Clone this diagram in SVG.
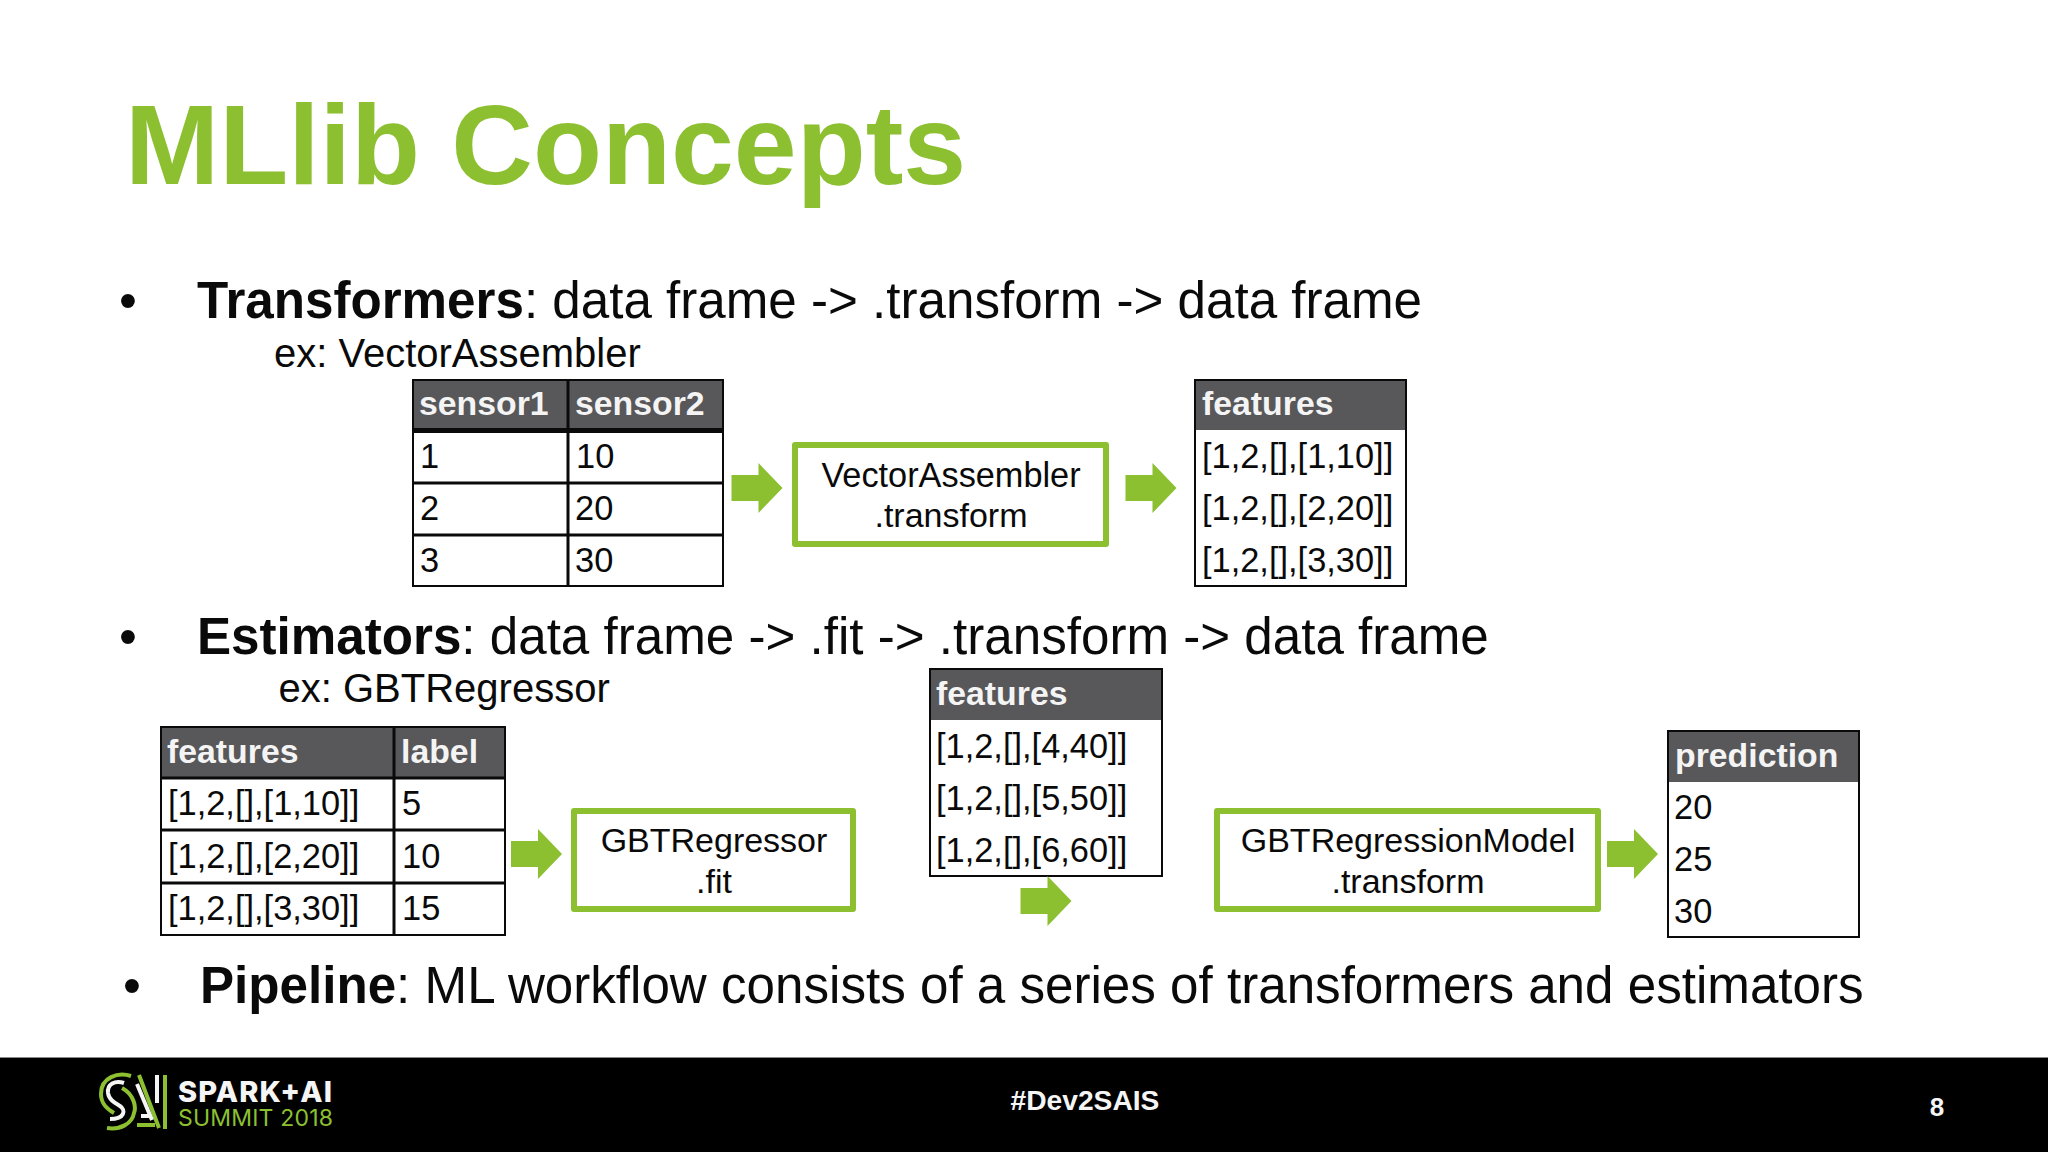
<svg xmlns="http://www.w3.org/2000/svg" width="2048" height="1152" viewBox="0 0 2048 1152">
<style>
text{font-family:"Liberation Sans",Arial,sans-serif;fill:#0a0a0a}
.title{font-size:113px;font-weight:700;fill:#8dc031}
.main{font-size:51.15px}
.main tspan{font-weight:700}
.sub{font-size:40px}
.th{font-size:33.8px;font-weight:700;fill:#f4f4f4}
.td{font-size:34.4px}
.lbl{font-size:34px;text-anchor:middle}
.head{fill:#58585a}
.frame{fill:#fff}
.outline{fill:none;stroke:#0a0a0a;stroke-width:2}
.grid{stroke:#0a0a0a;stroke-width:3;fill:none}
.box{fill:#fff;stroke:#8dc031;stroke-width:6;stroke-linejoin:round}
.arrow{fill:#8dc031}
.foot{font-weight:700;fill:#f5f5f5}
.lg{fill:none;stroke:#8dc031;stroke-width:4}
.lw{fill:none;stroke:#f5f5f5;stroke-width:4}
</style>
<defs>
<polygon id="arr" points="-25.5,-13 1.5,-13 1.5,-25 25.5,0 1.5,25 1.5,13 -25.5,13"/>
</defs>
<rect width="2048" height="1152" fill="#fff"/>
<text class="title" x="125" y="184">MLlib Concepts</text>

<g id="bullet-transformers">
<text class="main" x="119" y="318">•</text>
<text class="main" x="197" y="318"><tspan>Transformers</tspan>: data frame -&gt; .transform -&gt; data frame</text>
<text class="sub" x="274" y="367">ex: VectorAssembler</text>
</g>

<g id="table-sensors">
<rect class="frame" x="413" y="380" width="310" height="206"/>
<rect class="head" x="413" y="380" width="310" height="50"/>
<path class="grid" d="M413 483H723M413 535H723M568 380V586"/>
<path d="M413 430.500H723" stroke="#0a0a0a" stroke-width="5"/>
<rect class="outline" x="413" y="380" width="310" height="206"/>
<text class="th" x="419" y="415">sensor1</text><text class="th" x="575" y="415">sensor2</text>
<text class="td" x="420" y="468">1</text><text class="td" x="576" y="468">10</text>
<text class="td" x="420" y="520">2</text><text class="td" x="575" y="520">20</text>
<text class="td" x="420" y="572">3</text><text class="td" x="575" y="572">30</text>
</g>

<g id="node-vectorassembler">
<rect class="box" x="795" y="445" width="311" height="99"/>
<text class="lbl" x="951" y="487" style="font-size:34.3px">VectorAssembler</text>
<text class="lbl" x="951" y="527">.transform</text>
</g>

<g id="table-features-out">
<rect class="frame" x="1195" y="380" width="211" height="206"/>
<rect class="head" x="1195" y="380" width="211" height="50"/>
<rect class="outline" x="1195" y="380" width="211" height="206"/>
<text class="th" x="1202" y="415">features</text>
<text class="td" x="1202" y="468">[1,2,[],[1,10]]</text>
<text class="td" x="1202" y="520">[1,2,[],[2,20]]</text>
<text class="td" x="1202" y="572">[1,2,[],[3,30]]</text>
</g>

<g id="bullet-estimators">
<text class="main" x="119" y="654">•</text>
<text class="main" x="197" y="654"><tspan>Estimators</tspan>: data frame -&gt; .fit -&gt; .transform -&gt; data frame</text>
<text class="sub" x="278.500" y="702">ex: GBTRegressor</text>
</g>

<g id="table-train">
<rect class="frame" x="161" y="727" width="344" height="208"/>
<rect class="head" x="161" y="727" width="344" height="51"/>
<path class="grid" d="M161 778H505M161 830H505M161 883H505M394 727V935"/>
<rect class="outline" x="161" y="727" width="344" height="208"/>
<text class="th" x="167" y="763">features</text><text class="th" x="401" y="763">label</text>
<text class="td" x="168" y="815">[1,2,[],[1,10]]</text><text class="td" x="402" y="815">5</text>
<text class="td" x="168" y="868">[1,2,[],[2,20]]</text><text class="td" x="402" y="868">10</text>
<text class="td" x="168" y="920">[1,2,[],[3,30]]</text><text class="td" x="402" y="920">15</text>
</g>

<g id="node-gbtregressor">
<rect class="box" x="574" y="811" width="279" height="98"/>
<text class="lbl" x="714" y="852">GBTRegressor</text>
<text class="lbl" x="714" y="893">.fit</text>
</g>

<g id="table-features-test">
<rect class="frame" x="930" y="669" width="232" height="207"/>
<rect class="head" x="930" y="669" width="232" height="51"/>
<rect class="outline" x="930" y="669" width="232" height="207"/>
<text class="th" x="936" y="705">features</text>
<text class="td" x="936" y="758">[1,2,[],[4,40]]</text>
<text class="td" x="936" y="810">[1,2,[],[5,50]]</text>
<text class="td" x="936" y="862">[1,2,[],[6,60]]</text>
</g>

<g id="node-gbtmodel">
<rect class="box" x="1217" y="811" width="381" height="98"/>
<text class="lbl" x="1408" y="852">GBTRegressionModel</text>
<text class="lbl" x="1408" y="893">.transform</text>
</g>

<g id="table-prediction">
<rect class="frame" x="1668" y="731" width="191" height="206"/>
<rect class="head" x="1668" y="731" width="191" height="51"/>
<rect class="outline" x="1668" y="731" width="191" height="206"/>
<text class="th" x="1675" y="767">prediction</text>
<text class="td" x="1674" y="819">20</text>
<text class="td" x="1674" y="871">25</text>
<text class="td" x="1674" y="923">30</text>
</g>

<g id="connectors" class="arrow">
<use href="#arr" x="757" y="488"/>
<use href="#arr" x="1151" y="488"/>
<use href="#arr" x="536.500" y="854"/>
<use href="#arr" x="1046" y="901"/>
<use href="#arr" x="1632.500" y="854"/>
</g>

<g id="bullet-pipeline">
<text class="main" x="123" y="1003">•</text>
<text class="main" x="200" y="1003"><tspan>Pipeline</tspan>: ML workflow consists of a series of transformers and estimators</text>
</g>

<g id="footer">
<rect y="1057" width="2048" height="95" fill="#000"/>
<rect y="1057" width="2048" height="1" fill="#888"/>
<path class="lg" d="M131 1076C118 1072 101 1077 101 1094C101 1104 107 1109 114 1113"/>
<path class="lg" d="M122 1088C135 1095 136 1108 134 1113C132 1124 120 1130 107 1128"/>
<path class="lw" d="M124 1083C115 1080 107 1084 108 1093C109 1100 115 1103 120 1106C126 1110 125 1119 110 1119"/>
<path class="lg" d="M139 1075L159 1128M165 1075V1129M137 1125H155"/>
<path class="lw" d="M157 1075V1103M137 1084L152 1120M141 1116H151"/>
<text x="178" y="1102" font-size="29" font-weight="800" textLength="154" style="font-family:Inter,sans-serif;fill:#f5f5f5">SPARK+AI</text>
<text x="178" y="1126" font-size="23" textLength="155" style="font-family:Inter,sans-serif;fill:#8dc031">SUMMIT 2018</text>
<text class="foot" x="1085" y="1110" font-size="28.200" text-anchor="middle">#Dev2SAIS</text>
<text class="foot" x="1937" y="1116" font-size="26" text-anchor="middle">8</text>
</g>
</svg>
